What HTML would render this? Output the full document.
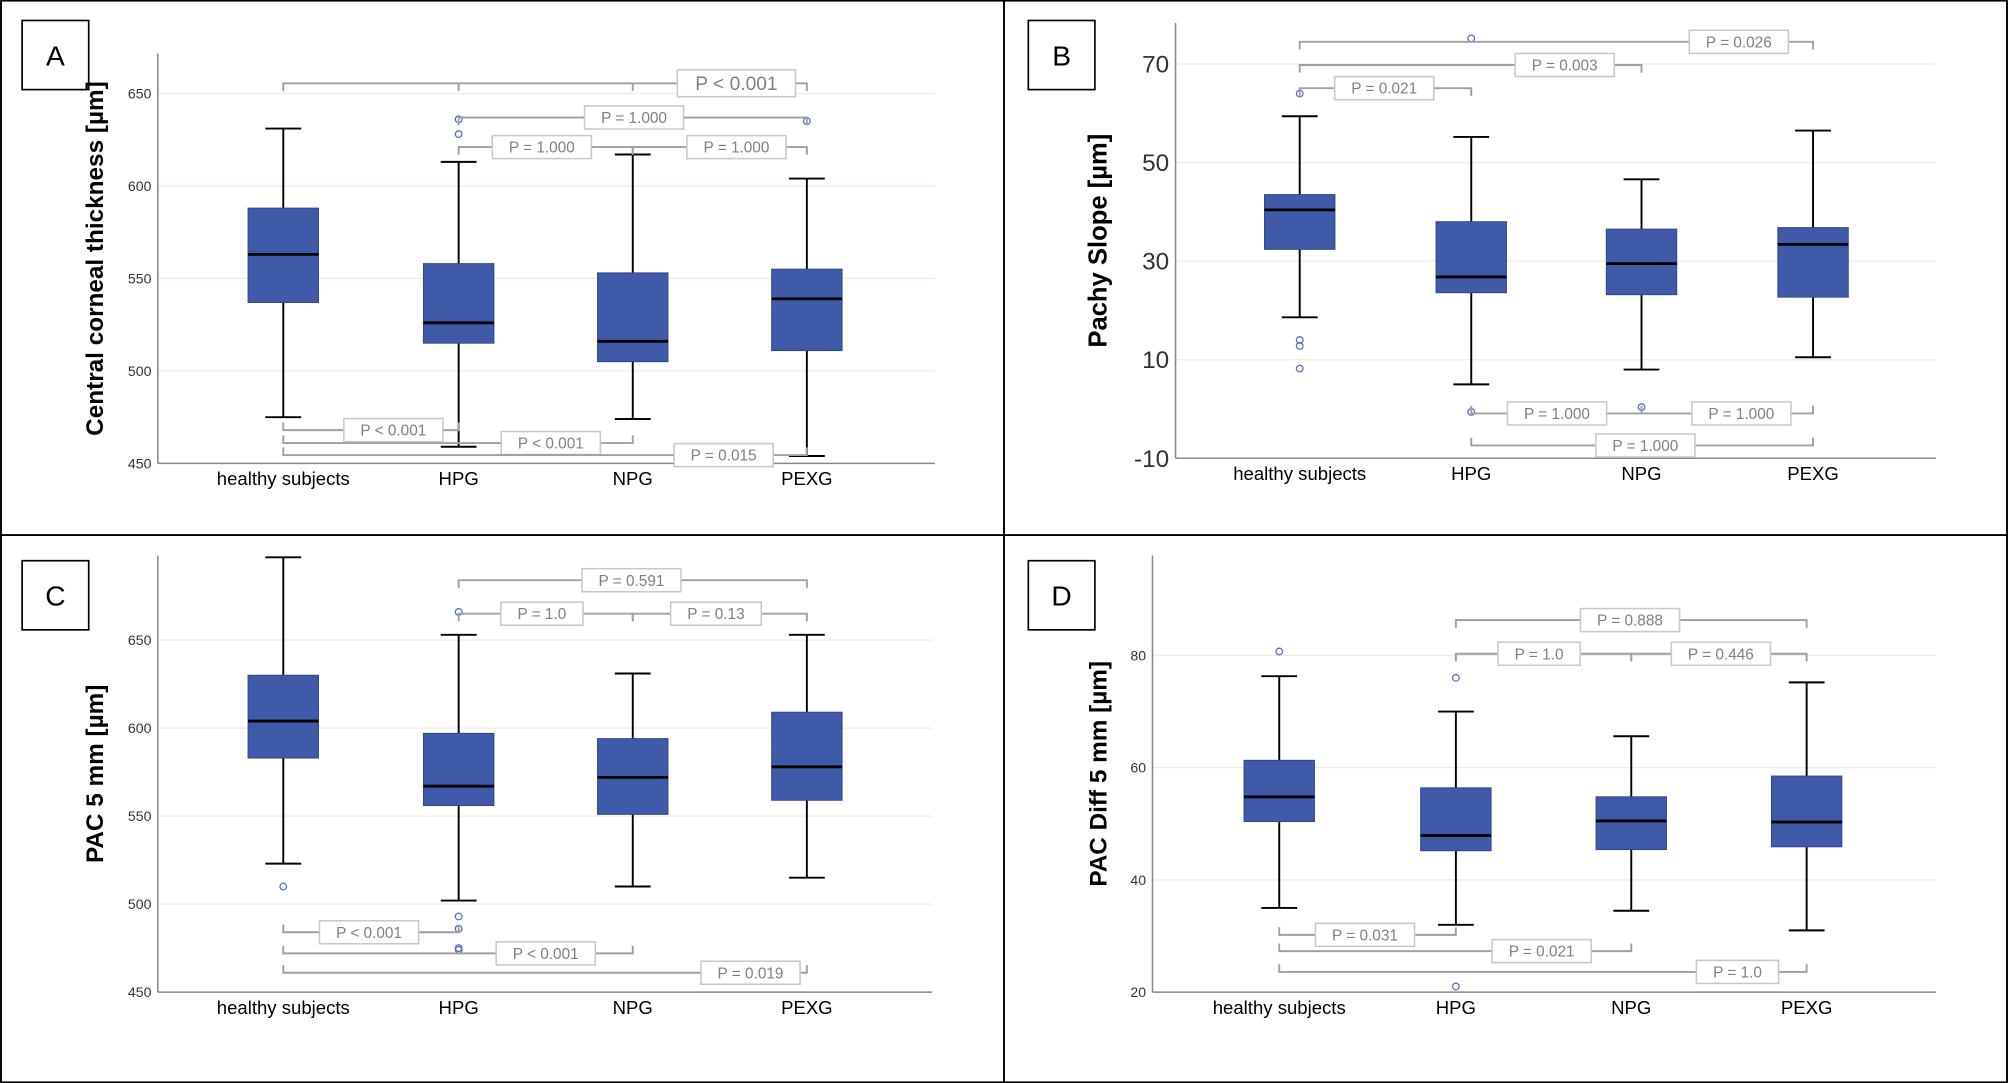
<!DOCTYPE html>
<html><head><meta charset="utf-8">
<style>
html,body{margin:0;padding:0;background:#fff;}
svg{display:block;font-family:"Liberation Sans",sans-serif;}
</style></head>
<body>
<svg id="fig" width="2008" height="1083" viewBox="0 0 1568 846" xmlns="http://www.w3.org/2000/svg">
<rect x="0.5" y="0.5" width="1567" height="845" fill="#fff" stroke="#000" stroke-width="1.5"/>
<line x1="784" y1="0" x2="784" y2="846" stroke="#000" stroke-width="1.5"/>
<line x1="0" y1="418" x2="1568" y2="418" stroke="#000" stroke-width="1.5"/>
</svg>
<script>
// ---------- data ----------
const categories = ["healthy subjects","HPG","NPG","PEXG"];
// [whiskerLow, q1, median, q3, whiskerHigh]
const statsA = [[475,537,563,588,631],[459,515,526,558,613],[474,505,516,553,617],[454,511,539,555,604]];
const outliersA = [[],[636,628],[],[635]];
const ticksA = [450,500,550,600,650];
const statsB = [[18.6,32.4,40.4,43.5,59.4],[5,23.6,26.8,38,55.2],[8,23.2,29.5,36.5,46.6],[10.5,22.7,33.4,36.8,56.5]];
const outliersB = [[64,14,12.8,8.2],[75.2,-0.6],[0.4],[]];
const ticksB = [-10,10,30,50,70];
const statsC = [[523,583,604,630,697],[502,556,567,597,653],[510,551,572,594,631],[515,559,578,609,653]];
const outliersC = [[510],[666,493,486,475,474],[],[]];
const ticksC = [450,500,550,600,650];
const statsD = [[35,50.4,54.8,61.3,76.3],[32,45.2,47.9,56.4,70],[34.5,45.4,50.5,54.8,65.6],[31,45.9,50.3,58.5,75.2]];
const outliersD = [[80.7],[76,21],[],[]];
const ticksD = [20,40,60,80];
// brackets: [fromCat, toCat, value, label, labelCenterX, direction(1=top,-1=bottom), fontSize]
const bracketsA = [[0,3,655.5,"P < 0.001",575,1,15],[1,3,637,"P = 1.000",495,1,12],[1,2,621,"P = 1.000",423,1,12],[2,3,621,"P = 1.000",575,1,12],
  [0,1,468,"P < 0.001",307,-1,12],[0,2,461,"P < 0.001",430,-1,12],[0,3,454.5,"P = 0.015",565,-1,12]];
const bracketsB = [[0,3,74.5,"P = 0.026",1358,1,12],[0,2,69.8,"P = 0.003",1222,1,12],[0,1,65.1,"P = 0.021",1081,1,12],
  [1,2,-0.9,"P = 1.000",1216,-1,12],[2,3,-0.9,"P = 1.000",1360,-1,12],[1,3,-7.4,"P = 1.000",1285,-1,12]];
const bracketsC = [[1,3,684,"P = 0.591",493,1,12],[1,2,665,"P = 1.0",423,1,12],[2,3,665,"P = 0.13",559,1,12],
  [0,1,484,"P < 0.001",288,-1,12],[0,2,472,"P < 0.001",426,-1,12],[0,3,461,"P = 0.019",586,-1,12]];
const bracketsD = [[1,3,86.3,"P = 0.888",1273,1,12],[1,2,80.3,"P = 1.0",1202,1,12],[2,3,80.3,"P = 0.446",1344,1,12],
  [0,1,30.2,"P = 0.031",1066,-1,12],[0,2,27.3,"P = 0.021",1204,-1,12],[0,3,23.6,"P = 1.0",1357,-1,12]];

const NS="http://www.w3.org/2000/svg";
const svg=document.getElementById("fig");
function mk(tag,attrs,parent){const e=document.createElementNS(NS,tag);for(const k in attrs)e.setAttribute(k,attrs[k]);(parent||svg).appendChild(e);return e;}

function panel(cfg){
  const g=mk("g",{});
  
  
  const y=v=>cfg.y0+(v-cfg.v0)*(cfg.y1-cfg.y0)/(cfg.v1-cfg.v0);
  const x=i=>cfg.xs[i];
  const lb=mk("rect",{x:cfg.lx,y:cfg.ly,width:52,height:54,fill:"#fff",stroke:"#000","stroke-width":1.3},g);
  
  
  const lt=mk("text",{x:cfg.lx+26,y:cfg.ly+35,"font-size":22,"text-anchor":"middle",fill:"#000"},g);lt.textContent=cfg.letter;
  
  
  cfg.ticks.forEach(t=>{
    const gl=mk("line",{x1:cfg.ax,x2:cfg.right,y1:y(t),y2:y(t),stroke:"#efeedc","stroke-width":1},g);
    
    
    const tl=mk("text",{x:cfg.ax-5,y:y(t)+cfg.tfs*0.35,"font-size":cfg.tfs,"text-anchor":"end",fill:"#333"},g);
    tl.textContent=t;
    
    
  });
  const ya=mk("line",{x1:cfg.ax,x2:cfg.ax,y1:cfg.top,y2:cfg.bottom,stroke:"#888","stroke-width":1.2},g);
  
  
  const xa=mk("line",{x1:cfg.ax,x2:cfg.right,y1:cfg.bottom,y2:cfg.bottom,stroke:"#888","stroke-width":1.2},g);
  
  
  const cy=(cfg.top+cfg.bottom)/2;
  const yt=mk("text",{x:cfg.tx,y:cy,"font-size":cfg.yfs,"font-weight":"bold","text-anchor":"middle",transform:`rotate(-90 ${cfg.tx} ${cy})`,fill:"#000"},g);
  yt.textContent=cfg.title;
  
  
  categories.forEach((c,i)=>{
    const t=mk("text",{x:x(i),y:cfg.bottom+17,"font-size":14.5,"text-anchor":"middle",fill:"#000"},g);t.textContent=c;
    
    
  });
  cfg.stats.forEach((s,i)=>{
    const bg=mk("g",{},g);
    
    
    const cx=x(i),hw=27.5;
    mk("line",{x1:cx,x2:cx,y1:y(s[0]),y2:y(s[1]),stroke:"#000","stroke-width":1.5},bg);
    mk("line",{x1:cx,x2:cx,y1:y(s[3]),y2:y(s[4]),stroke:"#000","stroke-width":1.5},bg);
    mk("line",{x1:cx-14,x2:cx+14,y1:y(s[0]),y2:y(s[0]),stroke:"#000","stroke-width":1.5},bg);
    mk("line",{x1:cx-14,x2:cx+14,y1:y(s[4]),y2:y(s[4]),stroke:"#000","stroke-width":1.5},bg);
    mk("rect",{x:cx-hw,y:y(s[3]),width:hw*2,height:y(s[1])-y(s[3]),fill:"#3f5aa8",stroke:"#34488a","stroke-width":0.8},bg);
    mk("line",{x1:cx-hw,x2:cx+hw,y1:y(s[2]),y2:y(s[2]),stroke:"#000","stroke-width":2.2},bg);
    cfg.outl[i].forEach(o=>{
      const c=mk("circle",{cx:cx,cy:y(o),r:2.6,fill:"none",stroke:"#5670c0","stroke-width":1},bg);
      
      
    });
  });
  cfg.brackets.forEach(b=>{
    const bg=mk("g",{},g);
    
    
    const x1=x(b[0]),x2=x(b[1]),yy=y(b[2]),d=b[5]*6,fs=b[6];
    mk("path",{d:`M${x1},${yy+d}V${yy}H${x2}V${yy+d}`,fill:"none",stroke:"#a0a0a0","stroke-width":1.5},bg);
    if(cfg.midTicks && b[5]===1 && b[1]-b[0]>1){
      for(let k=b[0]+1;k<b[1];k++) mk("line",{x1:x(k),x2:x(k),y1:yy,y2:yy+d,stroke:"#a0a0a0","stroke-width":1.5},bg);
    }
    const w=b[3].length*fs*0.55+18, h=fs+6;
    mk("rect",{x:b[4]-w/2,y:yy-h/2,width:w,height:h,fill:"#fff",stroke:"#c8c8c8","stroke-width":1.2},bg);
    const t=mk("text",{x:b[4],y:yy+fs*0.36,"font-size":fs,"text-anchor":"middle",fill:"#808080"},bg);
    t.textContent=b[3];
    
    
  });
}
const xsL=[221,358,494,630], xsR1=[1015,1149,1282,1416], xsR2=[999,1137,1274,1411];
panel({letter:"A",lx:17,ly:16,ax:123,right:730,top:42,bottom:362,xs:xsL,v0:450,y0:362,v1:650,y1:73,ticks:ticksA,tfs:11,yfs:19,tx:80,title:"Central corneal thickness [µm]",stats:statsA,outl:outliersA,brackets:bracketsA,midTicks:true});
panel({letter:"B",lx:803,ly:16,ax:918,right:1512,top:18,bottom:358,xs:xsR1,v0:-10,y0:358,v1:70,y1:50,ticks:ticksB,tfs:19,yfs:20,tx:864,title:"Pachy Slope [µm]",stats:statsB,outl:outliersB,brackets:bracketsB});
panel({letter:"C",lx:17,ly:438,ax:123,right:728,top:434,bottom:775,xs:xsL,v0:450,y0:775,v1:650,y1:500,ticks:ticksC,tfs:11,yfs:19,tx:80,title:"PAC 5 mm [µm]",stats:statsC,outl:outliersC,brackets:bracketsC});
panel({letter:"D",lx:803,ly:438,ax:900,right:1512,top:434,bottom:775,xs:xsR2,v0:20,y0:775,v1:80,y1:512,ticks:ticksD,tfs:11,yfs:19,tx:864,title:"PAC Diff 5 mm [µm]",stats:statsD,outl:outliersD,brackets:bracketsD});
</script>
</body></html>
